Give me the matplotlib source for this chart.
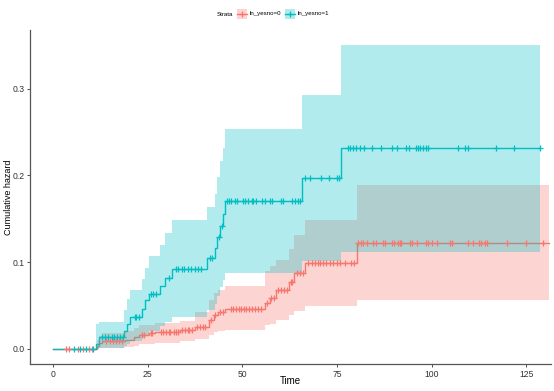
import numpy as np
import matplotlib.pyplot as plt
from matplotlib.patches import Rectangle
from matplotlib.lines import Line2D

plt.rcParams['font.family'] = ['Liberation Sans', 'DejaVu Sans']

# ---- strata ln_yesno=0 (red) ----
t0 = [0, 11.6, 12.2, 13.0, 19.0, 21.4, 22.6, 25.2, 26.8, 33.5, 37.5, 41.3, 42.4, 43.6,
      45.5, 56.0, 57.2, 58.8, 62.2, 63.7, 66.6, 80.3]
haz0 = [0, 0.003, 0.0066, 0.0088, 0.0105, 0.0135, 0.0162, 0.018, 0.0195, 0.022, 0.025,
        0.0335, 0.039, 0.043, 0.0462, 0.0527, 0.0585, 0.0673, 0.0766, 0.087, 0.0988, 0.122]
up0 = [0, 0.010, 0.015, 0.018, 0.020, 0.024, 0.027, 0.028, 0.030, 0.032, 0.043, 0.056,
       0.064, 0.068, 0.072, 0.090, 0.095, 0.102, 0.115, 0.131, 0.149, 0.1886]
lo0 = [0, 0.0002, 0.0008, 0.0015, 0.002, 0.003, 0.005, 0.006, 0.007, 0.009, 0.011, 0.016,
       0.019, 0.021, 0.022, 0.027, 0.029, 0.033, 0.039, 0.044, 0.0497, 0.0558]
end0 = 131.0
cens0 = [3.5, 4.3, 6.5, 8.0, 9.5, 10.2, 14.0, 15.0, 15.8, 16.5, 17.3, 18.2, 23.5, 24.0,
         25.8, 26.2, 28.5, 29.0, 29.8, 30.5, 31.0, 31.8, 32.5, 33.0, 34.0, 34.8, 35.5,
         36.0, 36.8, 38.0, 38.8, 39.5, 40.2, 41.8, 42.8, 44.0, 44.8, 47.0, 47.5, 48.2,
         49.0, 49.6, 50.3, 51.0, 51.8, 52.5, 53.3, 54.0, 54.8, 56.5, 57.6, 58.3, 59.5,
         60.2, 61.0, 61.7, 62.7, 63.2, 64.5, 65.3, 66.0, 67.4, 68.3, 69.1, 70.0, 70.6,
         71.3, 72.0, 73.1, 73.8, 74.9, 75.7, 77.0, 78.8, 79.4, 80.6, 81.2, 81.9, 82.8,
         84.5, 85.4, 87.0, 87.6, 89.4, 90.0, 91.1, 91.6, 92.0, 94.2, 94.7, 96.0, 98.4,
         99.0, 100.2, 101.4, 104.7, 105.4, 109.6, 110.9, 112.5, 113.1, 114.0, 114.6,
         119.9, 125.0, 129.4]

# ---- strata ln_yesno=1 (blue) ----
t1 = [0, 11.2, 12.1, 18.8, 19.4, 20.3, 23.6, 24.4, 25.2, 28.2, 29.5, 31.5, 40.7, 42.7,
      43.2, 44.2, 44.9, 45.4, 65.8, 76.1]
haz1 = [0, 0.006, 0.0138, 0.020, 0.0287, 0.0366, 0.0455, 0.0562, 0.0628, 0.0725, 0.0822,
        0.0924, 0.1047, 0.116, 0.1285, 0.142, 0.155, 0.170, 0.1965, 0.231]
up1 = [0, 0.029, 0.031, 0.0443, 0.057, 0.068, 0.080, 0.093, 0.1066, 0.120, 0.134, 0.148,
       0.164, 0.178, 0.198, 0.216, 0.232, 0.253, 0.293, 0.350]
lo1 = [0, 0.0003, 0.0015, 0.003, 0.006, 0.009, 0.012, 0.016, 0.020, 0.026, 0.031, 0.037,
       0.045, 0.052, 0.061, 0.071, 0.079, 0.087, 0.101, 0.112]
end1 = 128.7
cens1 = [5.5, 7.2, 8.8, 10.5, 13.0, 13.8, 14.5, 15.6, 16.2, 17.0, 17.8, 18.4, 21.6, 22.0,
         22.8, 25.8, 26.5, 27.3, 30.5, 32.5, 33.0, 34.0, 34.5, 35.5, 36.5, 37.5, 38.2,
         39.0, 41.5, 42.0, 43.7, 44.5, 45.8, 46.5, 47.1, 48.0, 48.5, 50.2, 50.7, 51.5,
         52.4, 52.9, 53.7, 55.3, 55.9, 57.3, 57.7, 60.3, 60.8, 63.0, 63.9, 64.7, 65.2,
         66.5, 67.8, 70.7, 72.8, 74.9, 75.6, 77.8, 78.4, 79.1, 79.9, 81.0, 82.1, 84.1,
         86.7, 89.6, 90.7, 93.1, 94.0, 95.8, 96.4, 97.0, 97.7, 98.6, 99.0, 106.9, 108.7,
         109.6, 117.1, 121.7, 128.7]

labels = ['ln_yesno=0', 'ln_yesno=1']
red = '#F8766D'
blue = '#00BFC4'

W, H = 554, 391
fig = plt.figure(figsize=(W / 100, H / 100), dpi=100)
ax = fig.add_axes([30 / W, 1 - 364 / H, 521 / W, 334 / H])


def step_at(times, vals, q):
    idx = np.searchsorted(np.array(times), np.array(q), side='right') - 1
    return np.array(vals)[idx]


strata = [(t0, haz0, up0, lo0, end0, cens0, red),
          (t1, haz1, up1, lo1, end1, cens1, blue)]

# step lines first, ribbons go over them
for t, h, u, l, e, c, col in strata:
    ax.step(np.append(t, e), np.append(h, h[-1]), where='post', color=col, lw=1.0, zorder=1)

for t, h, u, l, e, c, col in strata:
    tt = np.append(t, e)
    ax.fill_between(tt, np.append(l, l[-1]), np.append(u, u[-1]), step='post',
                    color=col, alpha=0.3, lw=0, zorder=2)

for t, h, u, l, e, c, col in strata:
    ax.plot(c, step_at(t, h, c), ls='none', marker='+', ms=4.5, mew=0.9,
            color=col, zorder=3)

ax.set_xlim(-6.1, 131.5)
ax.set_ylim(-0.0175, 0.3675)
ax.set_xticks([0, 25, 50, 75, 100, 125])
ax.set_yticks([0.0, 0.1, 0.2, 0.3])
ax.set_yticklabels(['0.0', '0.1', '0.2', '0.3'])
ax.tick_params(labelsize=6.2, colors='#333333', length=2.5, width=0.6, pad=1.5)
ax.spines['top'].set_visible(False)
ax.spines['right'].set_visible(False)
for s in ['left', 'bottom']:
    ax.spines[s].set_color('#555555')
    ax.spines[s].set_linewidth(0.9)

ax.set_xlabel('Time', fontsize=7)
ax.xaxis.set_label_coords(0.5, -17 / 334)
ax.xaxis.label.set_va('center')
ax.set_ylabel('Cumulative hazard', fontsize=6.5)
ax.yaxis.set_label_coords(-21 / 521, 0.5)
ax.yaxis.label.set_va('center')

# legend drawn by hand at the top (Strata + two keys)
def px(x, y):
    return x / W, 1 - y / H

fig.text(*px(224.5, 14), 'Strata', fontsize=4.4, ha='center', va='center')
for x0, col, lab in [(237, red, labels[0]), (285, blue, labels[1])]:
    fig.add_artist(Rectangle(px(x0, 19), 10 / W, 10 / H, transform=fig.transFigure,
                             facecolor=col, alpha=0.3, lw=0))
    fig.add_artist(Line2D([px(x0, 0)[0], px(x0 + 10, 0)[0]], [px(0, 14)[1]] * 2,
                          transform=fig.transFigure, color=col, lw=1.0))
    fig.add_artist(Line2D([px(x0 + 5, 0)[0]], [px(0, 14)[1]], transform=fig.transFigure,
                          color=col, marker='+', ms=4.5, mew=0.9))
    fig.text(*px(x0 + 13, 14), lab, fontsize=4.4, ha='left', va='center')

fig.savefig('out.png', dpi=100)
